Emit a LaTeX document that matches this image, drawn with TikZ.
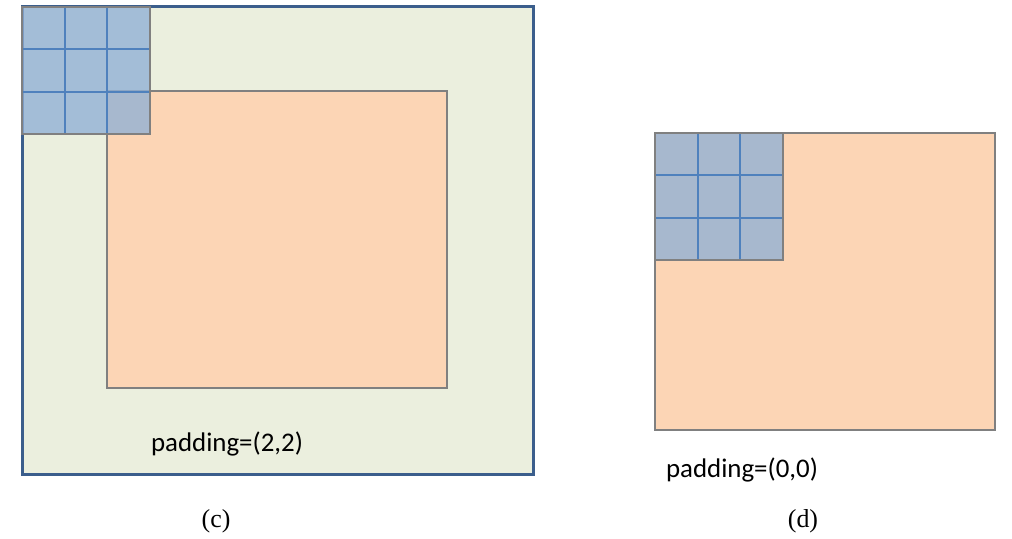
\documentclass[tikz,border=0pt]{standalone}
\usepackage{fontspec}
\setmainfont{Liberation Serif}
\newfontfamily\padfont{Carlito}
\definecolor{padgreen}{RGB}{235,239,222}
\definecolor{maporange}{RGB}{252,213,181}
\definecolor{frameblue}{RGB}{59,94,140}
\definecolor{kernfill}{RGB}{144,176,214}
\definecolor{kernline}{RGB}{79,129,189}
\definecolor{edgegray}{RGB}{128,128,128}
\tikzset{
  padded/.style={fill=padgreen,draw=frameblue,line width=3bp},
  fmap/.style={fill=maporange,draw=edgegray,line width=2bp},
  kern/.style={fill=kernfill,fill opacity=0.78},
  kgrid/.style={kernline,line width=2bp},
  kedge/.style={edgegray,line width=2.5bp},
  padtext/.style={anchor=base,font=\padfont\fontsize{27}{31}\selectfont},
  captext/.style={anchor=base,font=\fontsize{26}{30}\selectfont}
}
\begin{document}
\begin{tikzpicture}[x=1bp,y=-1bp]
	\useasboundingbox (0,0) rectangle (1012,539);
	\draw[padded](22,7) rectangle (533,474);
	\draw[fmap](107,91) rectangle (447,388);
	\draw[fmap](655,133) rectangle (995,430);
	\foreach \gx/\gy in {22/7,655/133}{
		\fill[kern](\gx,\gy) rectangle ++(128,127);
		\foreach \k in {1,2}{
			\draw[kgrid](\gx+\k*42.67,\gy)--++(0,127);
			\draw[kgrid](\gx,\gy+\k*42.33)--++(128,0);
		}
		\draw[kedge](\gx,\gy) rectangle ++(128,127);
	}
	\node[padtext] (padc) at (227,451) {padding=(2,2)};
	\node[padtext] (padd) at (742,477) {padding=(0,0)};
	\node[captext] (capc) at (216,527) {(c)};
	\node[captext] (capd) at (803,527) {(d)};
\end{tikzpicture}
\end{document}
